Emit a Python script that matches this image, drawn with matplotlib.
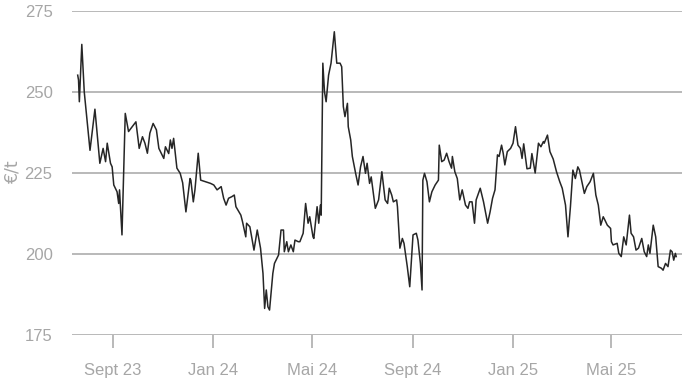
import pandas as pd
import matplotlib
matplotlib.use("Agg")
import matplotlib.pyplot as plt

plt.rcParams['font.family'] = ['Liberation Sans Narrow', 'Liberation Sans', 'DejaVu Sans']

# price series (EUR/t)
dates = [
    "2023-07-20", "2023-07-21", "2023-07-22", "2023-07-25", "2023-07-28", "2023-08-04",
    "2023-08-10", "2023-08-16", "2023-08-20", "2023-08-23", "2023-08-25", "2023-08-29",
    "2023-08-31", "2023-09-02", "2023-09-06", "2023-09-08", "2023-09-09", "2023-09-12",
    "2023-09-16", "2023-09-20", "2023-09-29", "2023-10-03", "2023-10-07", "2023-10-10",
    "2023-10-13", "2023-10-16", "2023-10-20", "2023-10-24", "2023-10-27", "2023-11-02",
    "2023-11-04", "2023-11-08", "2023-11-10", "2023-11-12", "2023-11-14", "2023-11-18",
    "2023-11-22", "2023-11-25", "2023-11-29", "2023-12-04", "2023-12-05", "2023-12-08",
    "2023-12-10", "2023-12-14", "2023-12-17", "2023-12-23", "2023-12-29", "2024-01-02",
    "2024-01-06", "2024-01-11", "2024-01-14", "2024-01-17", "2024-01-20", "2024-01-24",
    "2024-01-27", "2024-01-29", "2024-02-04", "2024-02-06", "2024-02-10", "2024-02-11",
    "2024-02-15", "2024-02-20", "2024-02-24", "2024-02-28", "2024-03-02", "2024-03-04",
    "2024-03-06", "2024-03-08", "2024-03-10", "2024-03-14", "2024-03-16", "2024-03-21",
    "2024-03-24", "2024-03-27", "2024-03-28", "2024-03-31", "2024-04-02", "2024-04-05",
    "2024-04-08", "2024-04-10", "2024-04-14", "2024-04-16", "2024-04-20", "2024-04-23",
    "2024-04-26", "2024-04-28", "2024-05-02", "2024-05-03", "2024-05-07", "2024-05-09",
    "2024-05-11", "2024-05-12", "2024-05-14", "2024-05-16", "2024-05-18", "2024-05-21",
    "2024-05-24", "2024-05-28", "2024-05-31", "2024-06-04", "2024-06-06", "2024-06-08",
    "2024-06-10", "2024-06-13", "2024-06-14", "2024-06-17", "2024-06-19", "2024-06-23",
    "2024-06-26", "2024-06-29", "2024-07-02", "2024-07-05", "2024-07-07", "2024-07-10",
    "2024-07-12", "2024-07-17", "2024-07-21", "2024-07-25", "2024-07-29", "2024-08-01",
    "2024-08-03", "2024-08-06", "2024-08-08", "2024-08-12", "2024-08-13", "2024-08-16",
    "2024-08-19", "2024-08-21", "2024-08-25", "2024-08-28", "2024-09-01", "2024-09-05",
    "2024-09-07", "2024-09-10", "2024-09-12", "2024-09-13", "2024-09-15", "2024-09-18",
    "2024-09-21", "2024-09-24", "2024-09-28", "2024-10-02", "2024-10-03", "2024-10-06",
    "2024-10-09", "2024-10-12", "2024-10-15", "2024-10-18", "2024-10-19", "2024-10-22",
    "2024-10-25", "2024-10-28", "2024-10-31", "2024-11-04", "2024-11-07", "2024-11-09",
    "2024-11-12", "2024-11-15", "2024-11-17", "2024-11-22", "2024-11-26", "2024-12-01",
    "2024-12-04", "2024-12-07", "2024-12-10", "2024-12-13", "2024-12-15", "2024-12-18",
    "2024-12-20", "2024-12-22", "2024-12-25", "2024-12-29", "2025-01-01", "2025-01-04",
    "2025-01-07", "2025-01-10", "2025-01-12", "2025-01-14", "2025-01-18", "2025-01-22",
    "2025-01-24", "2025-01-28", "2025-02-01", "2025-02-04", "2025-02-07", "2025-02-08",
    "2025-02-12", "2025-02-15", "2025-02-19", "2025-02-23", "2025-02-27", "2025-03-02",
    "2025-03-06", "2025-03-09", "2025-03-12", "2025-03-15", "2025-03-18", "2025-03-21",
    "2025-03-23", "2025-03-26", "2025-03-29", "2025-04-01", "2025-04-05", "2025-04-09",
    "2025-04-12", "2025-04-15", "2025-04-18", "2025-04-21", "2025-04-23", "2025-04-26",
    "2025-04-30", "2025-05-01", "2025-05-02", "2025-05-03", "2025-05-08", "2025-05-10",
    "2025-05-13", "2025-05-16", "2025-05-19", "2025-05-23", "2025-05-25", "2025-05-28",
    "2025-05-31", "2025-06-03", "2025-06-07", "2025-06-10", "2025-06-13", "2025-06-15",
    "2025-06-17", "2025-06-21", "2025-06-24", "2025-06-27", "2025-07-01", "2025-07-03",
    "2025-07-06", "2025-07-09", "2025-07-12", "2025-07-14", "2025-07-16", "2025-07-18",
    "2025-07-19",
]
prices = [
    255.2, 253.7, 247.0, 264.7, 250.0, 232.0,
    244.7, 228.0, 232.6, 228.5, 234.2, 228.0,
    226.9, 221.3, 219.2, 215.6, 219.8, 205.9,
    243.4, 237.8, 240.8, 232.6, 236.2, 234.2,
    231.1, 237.3, 240.3, 238.3, 232.6, 229.5,
    233.1, 231.0, 235.2, 232.6, 235.7, 226.5,
    224.9, 222.0, 213.0, 223.3, 222.8, 216.1,
    219.8, 231.1, 222.8, 222.3, 221.8, 221.3,
    219.8, 220.8, 217.2, 215.1, 217.2, 217.7,
    218.2, 214.6, 212.0, 210.0, 205.3, 209.5,
    208.4, 201.2, 207.4, 201.8, 194.0, 183.2,
    188.9, 183.7, 182.7, 194.0, 197.1, 199.7,
    207.4, 207.4, 200.7, 203.8, 200.7, 202.8,
    200.7, 204.3, 203.8, 203.8, 206.4, 215.6,
    209.5, 211.5, 205.3, 204.8, 214.6, 209.5,
    215.1, 212.0, 258.9, 250.1, 247.0, 255.2,
    258.9, 268.6, 258.9, 258.9, 257.8, 245.5,
    242.4, 246.5, 239.3, 235.2, 230.1, 224.9,
    221.3, 226.9, 230.1, 224.9, 228.0, 221.8,
    223.8, 214.1, 216.7, 225.4, 216.7, 215.6,
    220.3, 218.2, 216.1, 216.7, 214.6, 201.8,
    204.8, 203.3, 196.1, 189.9, 205.9, 206.4,
    204.3, 197.1, 188.9, 222.8, 224.9, 222.3,
    216.1, 219.2, 221.3, 222.8, 233.6, 228.5,
    229.0, 231.1, 228.5, 226.5, 230.1, 225.4,
    223.3, 216.7, 219.8, 215.1, 214.1, 216.1,
    216.1, 209.5, 216.7, 220.3, 216.1, 209.5,
    213.0, 217.2, 219.8, 230.6, 230.1, 233.6,
    231.1, 227.5, 231.6, 232.6, 234.2, 239.3,
    233.6, 232.6, 229.5, 234.0, 226.3, 226.5,
    231.0, 225.0, 234.2, 233.1, 234.7, 234.2,
    236.7, 231.6, 229.3, 225.4, 222.3, 220.3,
    215.1, 205.3, 214.6, 225.9, 223.3, 226.9,
    225.9, 222.3, 218.7, 220.8, 222.3, 224.9,
    218.2, 215.1, 208.9, 211.5, 210.5, 208.9,
    207.9, 203.8, 203.3, 202.8, 203.3, 200.2,
    199.2, 205.3, 202.8, 212.0, 206.4, 205.3,
    201.2, 201.8, 204.8, 200.7, 199.2, 202.8,
    200.2, 208.9, 205.3, 196.1, 195.6, 195.0,
    197.1, 196.1, 201.2, 200.7, 198.1, 200.2,
    199.2,
]

tick_dates = ["2023-09-01", "2024-01-01", "2024-05-01", "2024-09-01", "2025-01-01", "2025-05-01"]
tick_labels = ["Sept 23", "Jan 24", "Mai 24", "Sept 24", "Jan 25", "Mai 25"]
y_ticks = [175, 200, 225, 250, 275]

x = pd.to_datetime(dates)
grey = "#a6a6a6"

fig = plt.figure(figsize=(6.9, 3.88), dpi=100)
ax = fig.add_axes([0.1043, 0.1366, 0.884, 0.835])

ax.plot(x, prices, color="#262626", linewidth=1.1)

ax.set_ylim(175, 275)
ax.set_yticks(y_ticks)
ax.set_xlim(pd.Timestamp("2023-07-13"), pd.Timestamp("2025-07-26"))
ax.set_xticks(pd.to_datetime(tick_dates))
ax.set_xticklabels(tick_labels)

ax.grid(axis="y", color=grey, linewidth=1.1)
ax.set_axisbelow(True)
for s in ax.spines.values():
    s.set_visible(False)

ax.tick_params(axis="y", length=0, pad=14, labelsize=12, labelcolor=grey)
ax.tick_params(axis="x", length=9.5, width=1.1, color=grey, pad=11, labelsize=12, labelcolor=grey)

# unit label, placed left of the tick labels
fig.text(12.5 / 690, 1 - 172 / 388, "€/t", rotation=90, ha="center", va="center",
         color=grey, fontsize=12.5, family=["DejaVu Sans"])

plt.savefig("out.png", dpi=100)
